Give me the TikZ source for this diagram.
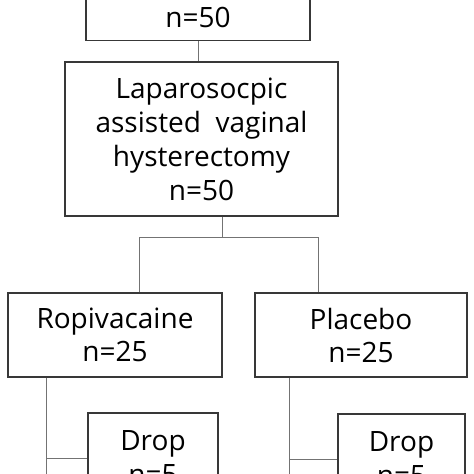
\documentclass[tikz,border=0pt]{standalone}
\usepackage{fontspec}
\setmainfont{Open Sans}
\usetikzlibrary{positioning}

\tikzset{
  box/.style={draw=black!78, line width=1.4pt, align=center, inner sep=0pt,
    font=\fontsize{28}{34}\selectfont},
  link/.style={draw=black!55, line width=0.9pt}
}

\begin{document}
\begin{tikzpicture}[x=1pt, y=-1pt]
 			\useasboundingbox (0,0) rectangle (474,474);
 			\clip (0,0) rectangle (474,474);
 			%%%	Boxes
 			\node[box, anchor=south, minimum width=224pt, text height=80pt, text depth=13pt] (total) at (198,41) {n=50};
 			\node[box, minimum width=273pt, minimum height=154pt] (lavh) at (201.5,139) {Laparosocpic\\assisted\ \ vaginal\\hysterectomy\\n=50};
 			\node[box, minimum width=214pt, minimum height=84pt, font=\fontsize{28}{33}\selectfont] (ropi) at (115,335) {Ropivacaine\\n=25};
 			\node[box, minimum width=212pt, minimum height=84pt, font=\fontsize{28}{33}\selectfont] (plac) at (361,335) {Placebo\\n=25};
 			\node[box, minimum width=130pt, minimum height=90pt] (dropr) at (153,458) {Drop\\n=5};
 			\node[box, minimum width=127pt, minimum height=90pt] (dropp) at (401.5,459) {Drop\\n=5};
 			%%%	Connectors
 			\coordinate (split) at (222,237);
 			\coordinate (ropin) at (139,237);
 			\coordinate (placin) at (318,237);
 			\coordinate (ropout) at (46,490);
 			\coordinate (placout) at (289,490);
 			\draw[link] (total.south) -- (total.south |- lavh.north);
 			\draw[link] (lavh.south -| split) -- (split);
 			\draw[link] (ropi.north -| ropin) -- (ropin) -- (placin) -- (plac.north -| placin);
 			\draw[link] (ropi.south -| ropout) -- (ropout);
 			\draw[link] (dropr.west -| ropout) -- (dropr.west);
 			\draw[link] (plac.south -| placout) -- (placout);
 			\draw[link] (dropp.west -| placout) -- (dropp.west);
\end{tikzpicture}
\end{document}
